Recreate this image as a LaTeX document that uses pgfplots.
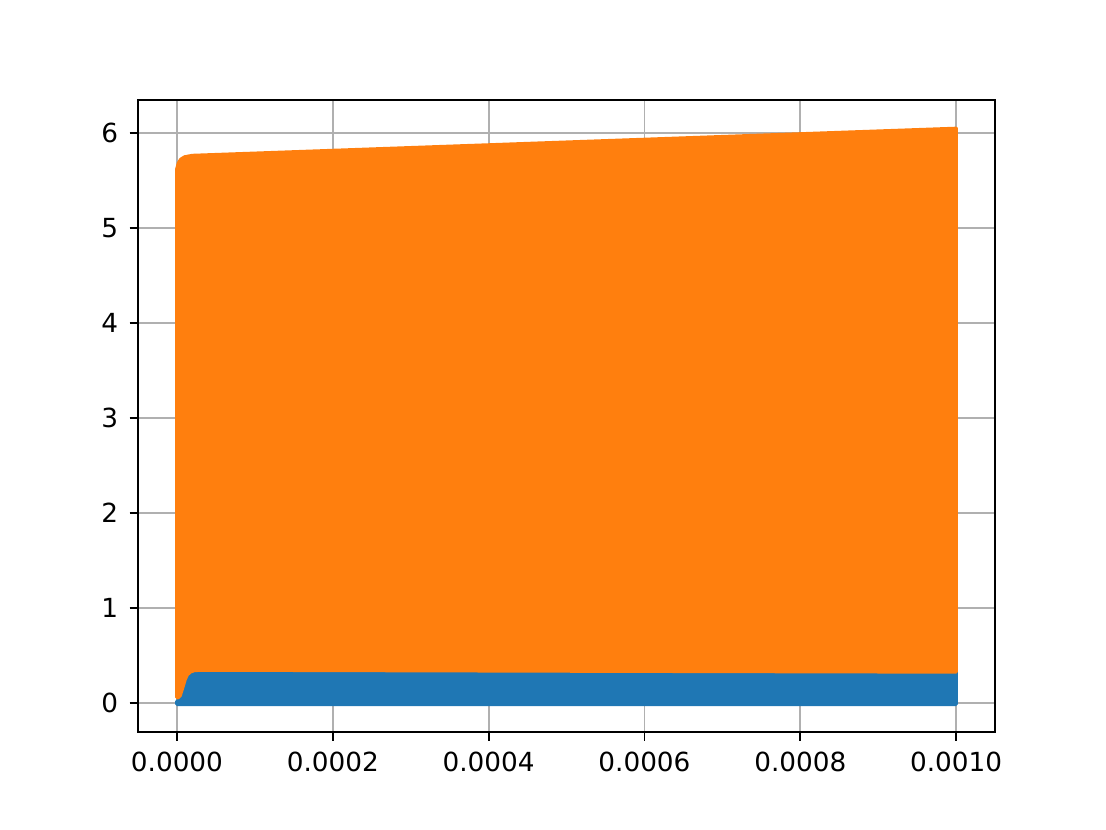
\documentclass[border=0pt]{standalone}
\usepackage{fontspec}
\setmainfont{DejaVu Sans}
\usepackage{pgfplots}
\pgfplotsset{compat=1.18}
\definecolor{mplblue}{HTML}{1F77B4}
\definecolor{mplorange}{HTML}{FF7F0E}
\definecolor{mplgrid}{HTML}{B0B0B0}
\begin{document}
\fontsize{11}{13}\selectfont
\begin{tikzpicture}
\path[use as bounding box] (-0.7986in,-0.5266in) rectangle (5.6014in,4.2734in);
\begin{axis}[
    at={(0,0.036in)}, anchor=south west,
    scale only axis,
    width=4.9595in, height=3.66in,
    xmin=-0.00005, xmax=0.00105,
    ymin=-0.305, ymax=6.347,
    axis line style={line width=0.8pt},
    tick style={line width=0.8pt, black},
    tick align=outside,
    major tick length=3.5pt,
    xtick pos=bottom, ytick pos=left,
    xtick={0,0.0002,0.0004,0.0006,0.0008,0.001},
    xticklabels={0.0000,0.0002,0.0004,0.0006,0.0008,0.0010},
    scaled x ticks=false,
    ytick={0,1,2,3,4,5,6},
    yticklabels={0,1,2,3,4,5,6},
    grid=major,
    major grid style={line width=0.8pt, mplgrid},
    /pgf/number format/assume math mode=true,
    ticklabel style={font=\fontsize{11}{13}\selectfont},
    xticklabel style={yshift=-1pt},
    yticklabel style={xshift=-1pt},
]
% blue signal envelope
\addplot[draw=mplblue, fill=mplblue, line width=1.5pt, line join=round] coordinates {
    (0,-0.01) (0.001,-0.01) (0.001,0.33) (0.0005,0.34) (0.00005,0.35)
    (0.00003,0.35) (0.000022,0.345) (0.000017,0.33) (0.000013,0.30)
    (0.0000103,0.25) (0.000007,0.16) (0.0000039,0.07) (0.000002,0.03) (0,0.02)
} -- cycle;
% orange signal envelope
\addplot[draw=mplorange, fill=mplorange, line width=1.5pt, line join=round] coordinates {
    (0,0.06) (0,5.62) (0.000002,5.68) (0.000005,5.72) (0.00001,5.745)
    (0.00002,5.76) (0.0005,5.90) (0.001,6.045) (0.001,0.33) (0.0005,0.34)
    (0.00005,0.35) (0.00003,0.35) (0.000022,0.345) (0.000017,0.33)
    (0.000013,0.30) (0.0000103,0.25) (0.000007,0.16) (0.0000039,0.08)
    (0.0000012,0.06)
} -- cycle;
\end{axis}
\end{tikzpicture}
\end{document}
